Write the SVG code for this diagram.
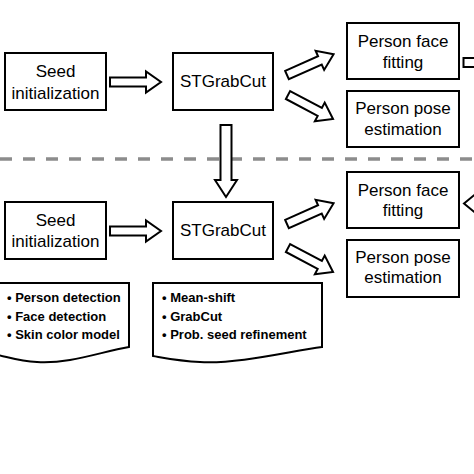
<svg xmlns="http://www.w3.org/2000/svg" width="474" height="474" viewBox="0 0 474 474">
<style>
.box{fill:#fff;stroke:#000;stroke-width:2}
.arr{fill:#fff;stroke:#000;stroke-width:2;stroke-linejoin:miter}
.t{font-family:"Liberation Sans",Arial,sans-serif;font-size:17px;fill:#000;text-anchor:middle}
.n{font-family:"Liberation Sans",Arial,sans-serif;font-size:13px;font-weight:bold;fill:#000}
.dash{stroke:#8c8c8c;stroke-width:3.5;stroke-dasharray:12 11;fill:none}
</style>
<defs>
<path id="ra" d="M0,-4.5 H36 V-10.5 L51,0 L36,10.5 V4.5 H0 Z"/>
</defs>
<rect width="474" height="474" fill="#fff"/>
<line class="dash" x1="0" y1="159" x2="474" y2="159"/>
<g id="seed1"><rect class="box" x="5" y="53" width="101" height="57"/><text class="t" x="55.5" y="77">Seed</text><text class="t" x="55.5" y="99">initialization</text></g>
<g id="stgc1"><rect class="box" x="173" y="53" width="100" height="57"/><text class="t" x="223" y="87">STGrabCut</text></g>
<g id="face1"><rect class="box" x="347" y="23" width="112" height="56"/><text class="t" x="403" y="47">Person face</text><text class="t" x="403" y="68">fitting</text></g>
<g id="pose1"><rect class="box" x="347" y="91" width="112" height="56"/><text class="t" x="403" y="114">Person pose</text><text class="t" x="403" y="135">estimation</text></g>
<g id="seed2"><rect class="box" x="5" y="202" width="101" height="57"/><text class="t" x="55.5" y="226">Seed</text><text class="t" x="55.5" y="247">initialization</text></g>
<g id="stgc2"><rect class="box" x="173" y="202" width="100" height="57"/><text class="t" x="223" y="236">STGrabCut</text></g>
<g id="face2"><rect class="box" x="347" y="172" width="112" height="56"/><text class="t" x="403" y="196">Person face</text><text class="t" x="403" y="216">fitting</text></g>
<g id="pose2"><rect class="box" x="347" y="240" width="112" height="57"/><text class="t" x="403" y="263">Person pose</text><text class="t" x="403" y="283">estimation</text></g>
<g id="note1"><path class="box" d="M-2,283 H129 V347 C100,352 70,364 37,362 C20,361 8,357 -2,355 Z"/><text class="n" x="7" y="302">• Person detection</text><text class="n" x="7" y="321">• Face detection</text><text class="n" x="7" y="339">• Skin color model</text></g>
<g id="note2"><path class="box" d="M153,283 H322 V347 C290,351 240,364 200,362 C180,361 165,358 153,356 Z"/><text class="n" x="162" y="302">• Mean-shift</text><text class="n" x="162" y="321">• GrabCut</text><text class="n" x="162" y="339">• Prob. seed refinement</text></g>
<g id="connectors">
<use href="#ra" class="arr" transform="translate(110,82)"/>
<use href="#ra" class="arr" transform="translate(287,75) rotate(-24)"/>
<use href="#ra" class="arr" transform="translate(288,95) rotate(28)"/>
<use href="#ra" class="arr" transform="translate(110,231)"/>
<use href="#ra" class="arr" transform="translate(287,224) rotate(-24)"/>
<use href="#ra" class="arr" transform="translate(288,248) rotate(28)"/>
<path class="arr" d="M220.5,125 H231.5 V180 H237 L226,197 L215,180 H220.5 Z"/>
<path class="arr" d="M478,58 H463.5 V67 H478"/>
<path class="arr" d="M478,192 L464,203.5 L478,215"/>
</g>
</svg>
